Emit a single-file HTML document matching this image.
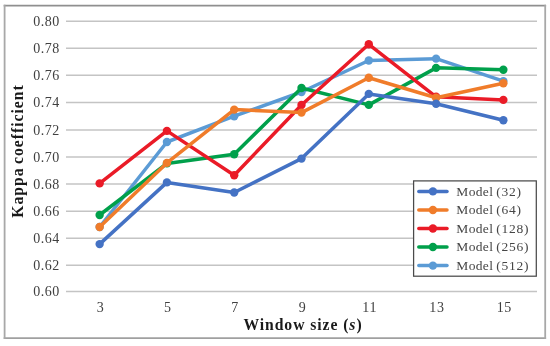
<!DOCTYPE html><html><head><meta charset="utf-8"><style>html,body{margin:0;padding:0;background:#fff;}svg{display:block;}text{font-family:"Liberation Serif",serif;}</style></head><body>
<svg width="550" height="346" viewBox="0 0 550 346">
<rect x="0" y="0" width="550" height="346" fill="#fff"/>
<path d="M3.7,5.6H546.1" stroke="#8f8f8f" stroke-width="1.7" fill="none"/>
<path d="M3.7,338.2H546.1" stroke="#a0a0a0" stroke-width="1.8" fill="none"/>
<path d="M4.6,4.8V339.1" stroke="#a8a8a8" stroke-width="1.8" fill="none"/>
<path d="M545.2,4.8V339.1" stroke="#a8a8a8" stroke-width="1.8" fill="none"/>
<line x1="66.0" y1="291.45" x2="537.0" y2="291.45" stroke="#c4c4c4" stroke-width="1.5"/>
<text x="59.8" y="296.05" font-size="14" fill="#404040" text-anchor="end" letter-spacing="0.5">0.60</text>
<line x1="66.0" y1="265.20" x2="537.0" y2="265.20" stroke="#c4c4c4" stroke-width="1.5"/>
<text x="59.8" y="269.80" font-size="14" fill="#404040" text-anchor="end" letter-spacing="0.5">0.62</text>
<line x1="66.0" y1="238.35" x2="537.0" y2="238.35" stroke="#c4c4c4" stroke-width="1.5"/>
<text x="59.8" y="242.95" font-size="14" fill="#404040" text-anchor="end" letter-spacing="0.5">0.64</text>
<line x1="66.0" y1="211.20" x2="537.0" y2="211.20" stroke="#c4c4c4" stroke-width="1.5"/>
<text x="59.8" y="215.80" font-size="14" fill="#404040" text-anchor="end" letter-spacing="0.5">0.66</text>
<line x1="66.0" y1="183.90" x2="537.0" y2="183.90" stroke="#c4c4c4" stroke-width="1.5"/>
<text x="59.8" y="188.50" font-size="14" fill="#404040" text-anchor="end" letter-spacing="0.5">0.68</text>
<line x1="66.0" y1="156.90" x2="537.0" y2="156.90" stroke="#c4c4c4" stroke-width="1.5"/>
<text x="59.8" y="161.50" font-size="14" fill="#404040" text-anchor="end" letter-spacing="0.5">0.70</text>
<line x1="66.0" y1="129.90" x2="537.0" y2="129.90" stroke="#c4c4c4" stroke-width="1.5"/>
<text x="59.8" y="134.50" font-size="14" fill="#404040" text-anchor="end" letter-spacing="0.5">0.72</text>
<line x1="66.0" y1="102.50" x2="537.0" y2="102.50" stroke="#c4c4c4" stroke-width="1.5"/>
<text x="59.8" y="107.10" font-size="14" fill="#404040" text-anchor="end" letter-spacing="0.5">0.74</text>
<line x1="66.0" y1="75.20" x2="537.0" y2="75.20" stroke="#c4c4c4" stroke-width="1.5"/>
<text x="59.8" y="79.80" font-size="14" fill="#404040" text-anchor="end" letter-spacing="0.5">0.76</text>
<line x1="66.0" y1="48.35" x2="537.0" y2="48.35" stroke="#c4c4c4" stroke-width="1.5"/>
<text x="59.8" y="52.95" font-size="14" fill="#404040" text-anchor="end" letter-spacing="0.5">0.78</text>
<line x1="66.0" y1="21.35" x2="537.0" y2="21.35" stroke="#c4c4c4" stroke-width="1.5"/>
<text x="59.8" y="25.95" font-size="14" fill="#404040" text-anchor="end" letter-spacing="0.5">0.80</text>
<text x="100.64" y="312.2" font-size="14" fill="#404040" text-anchor="middle" letter-spacing="0.7">3</text>
<text x="167.93" y="312.2" font-size="14" fill="#404040" text-anchor="middle" letter-spacing="0.7">5</text>
<text x="235.21" y="312.2" font-size="14" fill="#404040" text-anchor="middle" letter-spacing="0.7">7</text>
<text x="302.50" y="312.2" font-size="14" fill="#404040" text-anchor="middle" letter-spacing="0.7">9</text>
<text x="369.79" y="312.2" font-size="14" fill="#404040" text-anchor="middle" letter-spacing="0.7">11</text>
<text x="437.07" y="312.2" font-size="14" fill="#404040" text-anchor="middle" letter-spacing="0.7">13</text>
<text x="504.36" y="312.2" font-size="14" fill="#404040" text-anchor="middle" letter-spacing="0.7">15</text>
<text x="303" y="330.2" font-size="15.7" font-weight="bold" fill="#1a1a1a" text-anchor="middle" letter-spacing="0.93">Window size (<tspan font-style="italic">s</tspan>)</text>
<text transform="translate(22.8,151) rotate(-90)" font-size="15.7" font-weight="bold" fill="#1a1a1a" text-anchor="middle" letter-spacing="1.0" word-spacing="-1.6">Kappa coefficient</text>
<polyline points="99.64,227.00 166.93,142.00 234.21,116.20 301.50,92.00 368.79,60.50 436.07,58.65 503.36,81.10" fill="none" stroke="#5B9BD5" stroke-width="3.5" stroke-linejoin="round" stroke-linecap="round"/>
<circle cx="99.64" cy="227.00" r="4.2" fill="#5B9BD5"/>
<circle cx="166.93" cy="142.00" r="4.2" fill="#5B9BD5"/>
<circle cx="234.21" cy="116.20" r="4.2" fill="#5B9BD5"/>
<circle cx="301.50" cy="92.00" r="4.2" fill="#5B9BD5"/>
<circle cx="368.79" cy="60.50" r="4.2" fill="#5B9BD5"/>
<circle cx="436.07" cy="58.65" r="4.2" fill="#5B9BD5"/>
<circle cx="503.36" cy="81.10" r="4.2" fill="#5B9BD5"/>
<polyline points="99.64,215.00 166.93,163.40 234.21,154.20 301.50,88.00 368.79,104.90 436.07,67.85 503.36,69.80" fill="none" stroke="#00A04B" stroke-width="3.5" stroke-linejoin="round" stroke-linecap="round"/>
<circle cx="99.64" cy="215.00" r="4.2" fill="#00A04B"/>
<circle cx="166.93" cy="163.40" r="4.2" fill="#00A04B"/>
<circle cx="234.21" cy="154.20" r="4.2" fill="#00A04B"/>
<circle cx="301.50" cy="88.00" r="4.2" fill="#00A04B"/>
<circle cx="368.79" cy="104.90" r="4.2" fill="#00A04B"/>
<circle cx="436.07" cy="67.85" r="4.2" fill="#00A04B"/>
<circle cx="503.36" cy="69.80" r="4.2" fill="#00A04B"/>
<polyline points="99.64,183.40 166.93,130.90 234.21,175.20 301.50,105.00 368.79,44.30 436.07,96.80 503.36,99.90" fill="none" stroke="#EA1B27" stroke-width="3.5" stroke-linejoin="round" stroke-linecap="round"/>
<circle cx="99.64" cy="183.40" r="4.2" fill="#EA1B27"/>
<circle cx="166.93" cy="130.90" r="4.2" fill="#EA1B27"/>
<circle cx="234.21" cy="175.20" r="4.2" fill="#EA1B27"/>
<circle cx="301.50" cy="105.00" r="4.2" fill="#EA1B27"/>
<circle cx="368.79" cy="44.30" r="4.2" fill="#EA1B27"/>
<circle cx="436.07" cy="96.80" r="4.2" fill="#EA1B27"/>
<circle cx="503.36" cy="99.90" r="4.2" fill="#EA1B27"/>
<polyline points="99.64,227.00 166.93,162.90 234.21,109.60 301.50,112.60 368.79,77.80 436.07,97.70 503.36,83.20" fill="none" stroke="#F07C2A" stroke-width="3.5" stroke-linejoin="round" stroke-linecap="round"/>
<circle cx="99.64" cy="227.00" r="4.2" fill="#F07C2A"/>
<circle cx="166.93" cy="162.90" r="4.2" fill="#F07C2A"/>
<circle cx="234.21" cy="109.60" r="4.2" fill="#F07C2A"/>
<circle cx="301.50" cy="112.60" r="4.2" fill="#F07C2A"/>
<circle cx="368.79" cy="77.80" r="4.2" fill="#F07C2A"/>
<circle cx="436.07" cy="97.70" r="4.2" fill="#F07C2A"/>
<circle cx="503.36" cy="83.20" r="4.2" fill="#F07C2A"/>
<polyline points="99.64,244.10 166.93,182.40 234.21,192.50 301.50,158.60 368.79,93.90 436.07,103.70 503.36,120.30" fill="none" stroke="#4472C4" stroke-width="3.5" stroke-linejoin="round" stroke-linecap="round"/>
<circle cx="99.64" cy="244.10" r="4.2" fill="#4472C4"/>
<circle cx="166.93" cy="182.40" r="4.2" fill="#4472C4"/>
<circle cx="234.21" cy="192.50" r="4.2" fill="#4472C4"/>
<circle cx="301.50" cy="158.60" r="4.2" fill="#4472C4"/>
<circle cx="368.79" cy="93.90" r="4.2" fill="#4472C4"/>
<circle cx="436.07" cy="103.70" r="4.2" fill="#4472C4"/>
<circle cx="503.36" cy="120.30" r="4.2" fill="#4472C4"/>
<rect x="413.6" y="180.9" width="122.7" height="95.3" fill="#fff" stroke="#4a4a4a" stroke-width="1.25"/>
<line x1="418.8" y1="191.40" x2="447.0" y2="191.40" stroke="#4472C4" stroke-width="3.5" stroke-linecap="round"/>
<circle cx="432.9" cy="191.40" r="4.2" fill="#4472C4"/>
<text x="456.3" y="195.70" font-size="13.5" fill="#464646" letter-spacing="0.35">Model <tspan x="496.3" letter-spacing="0.75">(32)</tspan></text>
<line x1="418.8" y1="209.95" x2="447.0" y2="209.95" stroke="#F07C2A" stroke-width="3.5" stroke-linecap="round"/>
<circle cx="432.9" cy="209.95" r="4.2" fill="#F07C2A"/>
<text x="456.3" y="214.25" font-size="13.5" fill="#464646" letter-spacing="0.35">Model <tspan x="496.3" letter-spacing="0.75">(64)</tspan></text>
<line x1="418.8" y1="228.50" x2="447.0" y2="228.50" stroke="#EA1B27" stroke-width="3.5" stroke-linecap="round"/>
<circle cx="432.9" cy="228.50" r="4.2" fill="#EA1B27"/>
<text x="456.3" y="232.80" font-size="13.5" fill="#464646" letter-spacing="0.35">Model <tspan x="496.3" letter-spacing="0.75">(128)</tspan></text>
<line x1="418.8" y1="247.05" x2="447.0" y2="247.05" stroke="#00A04B" stroke-width="3.5" stroke-linecap="round"/>
<circle cx="432.9" cy="247.05" r="4.2" fill="#00A04B"/>
<text x="456.3" y="251.35" font-size="13.5" fill="#464646" letter-spacing="0.35">Model <tspan x="496.3" letter-spacing="0.75">(256)</tspan></text>
<line x1="418.8" y1="265.60" x2="447.0" y2="265.60" stroke="#5B9BD5" stroke-width="3.5" stroke-linecap="round"/>
<circle cx="432.9" cy="265.60" r="4.2" fill="#5B9BD5"/>
<text x="456.3" y="269.90" font-size="13.5" fill="#464646" letter-spacing="0.35">Model <tspan x="496.3" letter-spacing="0.75">(512)</tspan></text>
</svg></body></html>
